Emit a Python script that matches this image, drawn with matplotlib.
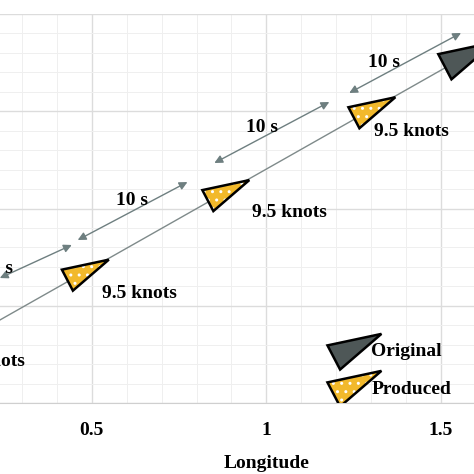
import numpy as np
import matplotlib.pyplot as plt
from matplotlib.patches import Polygon
from matplotlib.ticker import MultipleLocator

plt.rcParams['font.family'] = ['Liberation Serif', 'DejaVu Serif']
plt.rcParams['font.weight'] = 'bold'
plt.rcParams['hatch.linewidth'] = 1.0

# track of the vessel
track_x = [0.237, 1.551]
track_y = [-0.147, 2.527]

# positions of produced (yellow) and original (dark) vessel
prod_x = [0.469, 0.871, 1.289]
prod_y = [0.330, 1.148, 2.000]
orig_x = [1.557]
orig_y = [2.538]

# 10 s interval arrows (start, end)
arr_x0 = [0.237, 0.460, 0.851, 1.237]
arr_y0 = [0.285, 0.676, 1.468, 2.188]
arr_x1 = [0.443, 0.774, 1.180, 1.557]
arr_y1 = [0.625, 1.272, 2.095, 2.805]
time_lx = [0.229, 0.614, 0.986, 1.337]
time_ly = [0.388, 1.087, 1.838, 2.506]
speed_lx = [0.203, 0.637, 1.066, 1.414]
speed_ly = [-0.578, 0.131, 0.954, 1.787]

fig = plt.figure(figsize=(4.74, 4.74), dpi=100)
ax = fig.add_axes([-83/474, 71/474, 594/474, 389/474])
ax.set_xlim(0, 1.7)
ax.set_ylim(-1, 3)

ax.xaxis.set_major_locator(MultipleLocator(0.5))
ax.xaxis.set_minor_locator(MultipleLocator(0.1))
ax.yaxis.set_major_locator(MultipleLocator(1))
ax.yaxis.set_minor_locator(MultipleLocator(0.2))
ax.grid(which='major', color='#dcdcdc', lw=1.0)
ax.grid(which='minor', color='#efefef', lw=0.7)
for s in ax.spines.values():
    s.set_visible(False)
ax.spines['bottom'].set_visible(True)
ax.spines['bottom'].set_color('#cfcfcf')
ax.tick_params(which='both', length=0, labelsize=14, pad=14)
ax.set_yticklabels([])
ax.set_xticks([0.5, 1, 1.5])
ax.set_xticklabels(['0.5', '1', '1.5'], fontweight='bold')
ax.set_xlabel('Longitude', fontsize=14, fontweight='bold')
ax.xaxis.set_label_coords((267 + 83) / 594, -52 / 389)

ax.plot(track_x, track_y, color='#7f8a8a', lw=1.0, zorder=2)

for x0, y0, x1, y1 in zip(arr_x0, arr_y0, arr_x1, arr_y1):
    ax.annotate('', xy=(x1, y1), xytext=(x0, y0),
                arrowprops=dict(arrowstyle='<|-|>', color='#6e7f80', lw=1.0,
                                mutation_scale=12, shrinkA=0, shrinkB=0))

for x, y in zip(time_lx, time_ly):
    ax.text(x, y, '10 s', fontsize=14, fontweight='bold', ha='center', va='center')
for x, y in zip(speed_lx, speed_ly):
    ax.text(x, y, '9.5 knots', fontsize=14, fontweight='bold', ha='center', va='center')

# triangle shape in pixel offsets (tip, back corners)
shape = np.array([[28, 14], [-19, 4], [-8, -17]], dtype=float)

def tri_patch(xc, yc, scale, face, hatch):
    pts = np.column_stack([xc + shape[:, 0] * scale / 350, yc + shape[:, 1] * scale / 97.25])
    if hatch:
        ax.add_patch(Polygon(pts, closed=True, facecolor=face, edgecolor='white',
                             hatch='..', lw=0, zorder=4))
        ax.add_patch(Polygon(pts, closed=True, facecolor='none', edgecolor='black',
                             lw=1.8, zorder=5))
    else:
        ax.add_patch(Polygon(pts, closed=True, facecolor=face, edgecolor='black',
                             lw=1.8, zorder=5))

for x, y in zip(prod_x, prod_y):
    tri_patch(x, y, 1.0, '#f2b92b', True)
for x, y in zip(orig_x, orig_y):
    tri_patch(x, y, 1.2, '#4e5757', False)

# legend
def px2data(px, py):
    return 0.5 + (px - 92) / 350, (403 - py) / 97.25 - 1

lx, ly = px2data(350, 350)
tri_patch(lx, ly, 1.15, '#4e5757', False)
tx, ty = px2data(372, 352)
ax.text(tx, ty, 'Original', fontsize=14, fontweight='bold', va='center')
lx, ly = px2data(350, 387)
tri_patch(lx, ly, 1.15, '#f2b92b', True)
tx, ty = px2data(372, 389)
ax.text(tx, ty, 'Produced', fontsize=14, fontweight='bold', va='center')

fig.savefig('out.png', dpi=100)
